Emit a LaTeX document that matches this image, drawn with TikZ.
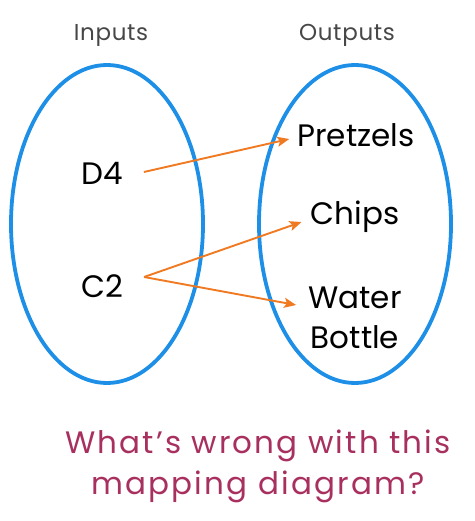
\documentclass[tikz,border=0pt]{standalone}
\usepackage{fontspec}
\setmainfont{Poppins}
\usepackage{tikz}
\usetikzlibrary{calc}
\usetikzlibrary{arrows.meta}
\tikzset{>=latex}
\definecolor{setblue}{HTML}{1E8FE6}
\definecolor{maporange}{HTML}{F07A22}
\definecolor{askred}{HTML}{A8305F}
\tikzset{
  setring/.style={draw=setblue,line width=3.8pt},
  elem/.style={font=\fontsize{31}{40}\selectfont,text=black,inner sep=0pt},
  head/.style={font=\fontsize{23}{26}\selectfont\addfontfeatures{LetterSpace=3},
    text=black!72,inner sep=0pt},
  maparrow/.style={->,draw=maporange,line width=1.9pt,
    >={Stealth[length=12pt,width=10pt,inset=2.5pt]}}
}

\begin{document}
\begin{tikzpicture}[x=1pt,y=-1pt]
      \useasboundingbox (0,0) rectangle (474,521);

      \coordinate (inset) at (107,224);
      \coordinate (outset) at (355,224);

      \draw [setring] (inset) ellipse [x radius=96, y radius=159];
      \draw [setring] (outset) ellipse [x radius=96, y radius=159];

      \node [head] (inputs) at (111,35) {Inputs};
      \node [head] (outputs) at (347,35) {Outputs};

      \node [elem] (d4) at (102,173) {D4};
      \node [elem] (c2) at (102,286) {C2};

      \node [elem] (pretzels) at (356,135) {Pretzels};
      \node [elem] (chips) at (355,217) {Chips};
      \node [elem,align=center] (water) at (355,318) {Water\\Bottle};

      % ends of the arrows
      \coordinate (d4out) at ($(d4.east)+(21,-1)$);
      \coordinate (c2out) at ($(c2.east)+(21,-9)$);
      \coordinate (pretzelsin) at ($(pretzels.west)+(-8,4)$);
      \coordinate (chipsin) at ($(chips.west)+(-9,5)$);
      \coordinate (waterin) at ($(water.west)+(-12,-13)$);

      \draw [maparrow] (d4out) -- (pretzelsin);
      \draw [maparrow] (c2out) -- (chipsin);
      \draw [maparrow] (c2out) -- (waterin);

      \node [font=\fontsize{31}{41}\selectfont\addfontfeatures{LetterSpace=7},
      text=askred,align=center]
      (ask) at (258,466) {What’s wrong with this\\mapping diagram?};
  \end{tikzpicture}
\end{document}
